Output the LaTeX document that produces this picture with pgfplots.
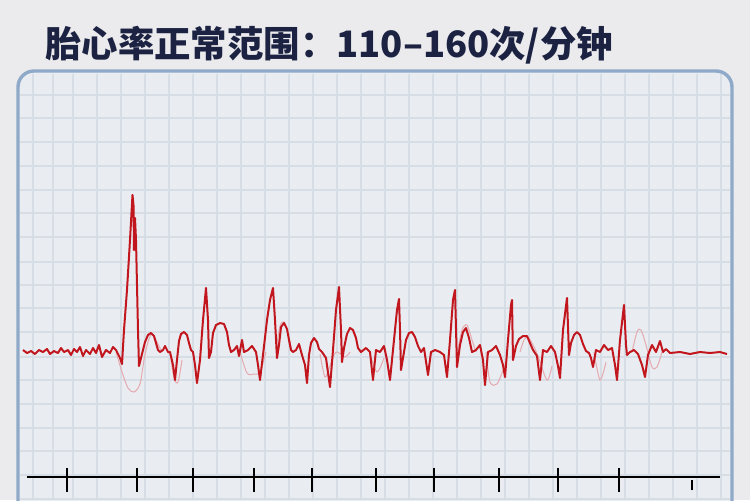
\documentclass[border=0pt]{standalone}
\usepackage{fontspec}
\usepackage{pgfplots}
\pgfplotsset{compat=1.18}
\newfontfamily\cjk{Noto Sans CJK SC}
\definecolor{bgout}{HTML}{EBEBED}
\definecolor{framefill}{HTML}{E9EDF1}
\definecolor{border}{HTML}{8FA9C9}
\definecolor{gridc}{HTML}{D6DDE5}
\definecolor{ecg}{HTML}{C2161E}
\definecolor{ghost}{HTML}{E4AAB0}
\definecolor{titlec}{HTML}{1C2242}
\begin{document}
\begin{tikzpicture}
\useasboundingbox (0,0) rectangle (375pt,250pt);
\clip (0,0) rectangle (375pt,250pt);
\fill[bgout] (0,0) rectangle (375pt,250pt);
\fill[framefill, rounded corners=8pt] (9pt,-20pt) rectangle (366pt,214.5pt);
\begin{axis}[
  scale only axis, width=355pt, height=213pt,
  at={(10pt,0pt)}, anchor=south west,
  xmin=20, xmax=730, ymin=74, ymax=500, y dir=reverse,
  axis line style={draw=none}, tick style={draw=none},
  xticklabels={}, yticklabels={},
  xtick={33,53,73,97,121,145,169,193,217,241,265,289,313,337,361,385,409,433,457,481,505,529,553,577,601,625,649,673,697,721},
  ytick={95,118,142,166,190,213,237,262,285,308,332,357,380,404,428,451,475,499},
  xmajorgrids, ymajorgrids,
  grid style={gridc, line width=0.6pt},
]
% faint ghost trace
\addplot[ghost, line width=0.5pt, smooth] coordinates {(116,352)(122,372)(128,388)(134,392)(140,384)(144,360)(148,342)(152,334)(157,342)(162,352)};
\addplot[ghost, line width=0.5pt, smooth] coordinates {(170,352)(174,378)(178,382)(182,360)};
\addplot[ghost, line width=0.5pt, smooth] coordinates {(240,352)(247,373)(254,374)(260,372)(266,352)};
\addplot[ghost, line width=0.5pt, smooth] coordinates {(276,350)(280,326)(284,322)(288,332)(292,352)};
\addplot[ghost, line width=0.5pt, smooth] coordinates {(320,354)(325,377)(330,366)(336,352)(345,357)(350,352)};
\addplot[ghost, line width=0.5pt, smooth] coordinates {(370,354)(377,372)(384,358)};
\addplot[ghost, line width=0.5pt, smooth] coordinates {(458,350)(462,330)(467,325)(472,340)(476,352)};
\addplot[ghost, line width=0.5pt, smooth] coordinates {(486,352)(490,382)(497,384)(503,370)};
\addplot[ghost, line width=0.5pt, smooth] coordinates {(520,352)(524,340)(528,337)(533,345)(538,356)(547,380)(552,366)};
\addplot[ghost, line width=0.5pt, smooth] coordinates {(594,352)(600,380)(606,362)};
\addplot[ghost, line width=0.5pt, smooth] coordinates {(632,352)(637,332)(641,330)(646,345)(652,367)(657,367)(662,352)};
% main trace
\addplot[ecg, line width=1pt, line join=round] coordinates {
(23,350)(27,353)(31,351)(35,354)(39,350)(43,352)(47,349)(50,354)(54,351)(58,353)
(61,348)(64,352)(68,350)(71,355)(74,349)(77,352)(80,347)(83,356)(86,350)(90,354)
(93,348)(96,353)(99,345)(102,357)(106,350)(110,353)(113,347)(116,350)(118,354)
(120,358)(122,364)(124,330)(127,290)(130,240)(132.5,195)(133.5,205)(134,250)(135,218)
(136,240)(138,330)(139,366)(141,358)(143,350)(145,342)(148,335)(151,333)(154,336)(156,343)(158,350)
(160,352)(163,350)(165,346)(168,352)(170,352)(173,365)(175,380)(177,360)(179,341)
(181,334)(184,332)(187,335)(189,343)(191,350)(193,352)(195,365)(197,383)(200,360)(203,320)(206,288)
(208,320)(209,358)(211,352)(213,333)(216,325)(220,323)(224,324)(227,332)(229,345)(231,352)(234,350)
(237,346)(239,356)(242,340)(244,352)(248,350)(252,346)(256,352)(258,365)(260,380)
(263,355)(267,320)(270,300)(273,288)(275,320)(277,358)(279,345)(281,327)(284,323)(287,329)
(289,340)(291,350)(293,352)(296,350)(299,344)(302,355)(305,365)(307,383)(309,355)(311,343)
(314,338)(317,342)(319,349)(322,352)(326,358)(330,387)(333,350)(336,310)(339,287)(341,330)
(342,362)(344,348)(347,334)(350,328)(353,330)(356,338)(358,348)(361,352)(366,348)(370,352)(373,380)
(376,350)(380,352)(384,346)(387,360)(390,380)(393,350)(397,310)(399,299)(400,330)
(401,370)(404,352)(406,340)(409,333)(412,332)(415,337)(418,346)(421,352)(424,348)(428,375)(431,352)
(435,350)(440,352)(444,355)(447,377)(450,340)(453,300)(455,290)(457,367)(460,345)
(463,332)(466,328)(469,338)(472,352)(476,350)(480,345)(483,360)(485,385)(488,352)(492,350)
(496,346)(500,355)(503,365)(505,377)(508,340)(511,305)(512,300)(513,360)(516,346)
(519,339)(523,336)(527,336)(530,343)(533,350)(537,356)(540,380)(543,350)(547,352)(551,346)
(555,352)(558,366)(560,378)(563,330)(567,298)(569,355)(571,343)(574,335)(577,332)(580,335)
(583,344)(586,351)(589,353)(591,358)(593,367)(596,350)(600,352)(604,345)(608,350)(612,348)
(615,365)(617,380)(620,340)(624,305)(626,345)(627,355)(630,352)(634,350)(638,354)
(642,365)(645,377)(648,355)(652,345)(656,352)(660,341)(663,352)(666,349)(670,353)
(680,352)(690,354)(700,352)(710,353)(720,352)(727,354)};
\end{axis}
\begin{axis}[
  scale only axis, width=346.5pt, height=10pt,
  at={(13.5pt,11.5pt)}, anchor=south west,
  xmin=27, xmax=720, ymin=0, ymax=1,
  axis x line*=bottom, axis y line=none,
  axis line style={black, line width=0.8pt},
  xtick={67,137,193,254,312,376,434,499,558,619},
  xticklabels={},
  tick align=center, major tick length=12pt,
  tick style={black, line width=0.9pt, yshift=-1.5pt},
  extra x ticks={692}, extra x tick labels={},
  extra x tick style={tick align=outside, major tick length=5pt, tick style={yshift=0pt}},
]
\end{axis}
\draw[border, line width=1.7pt, rounded corners=8pt] (9pt,-20pt) rectangle (366pt,214.5pt);
\node[anchor=base west, inner sep=0pt, text=titlec, font=\cjk\bfseries\fontsize{18.2pt}{20pt}\selectfont] at (22.5pt,221.5pt) {胎心率正常范围：110–160次/分钟};
\end{tikzpicture}
\end{document}
